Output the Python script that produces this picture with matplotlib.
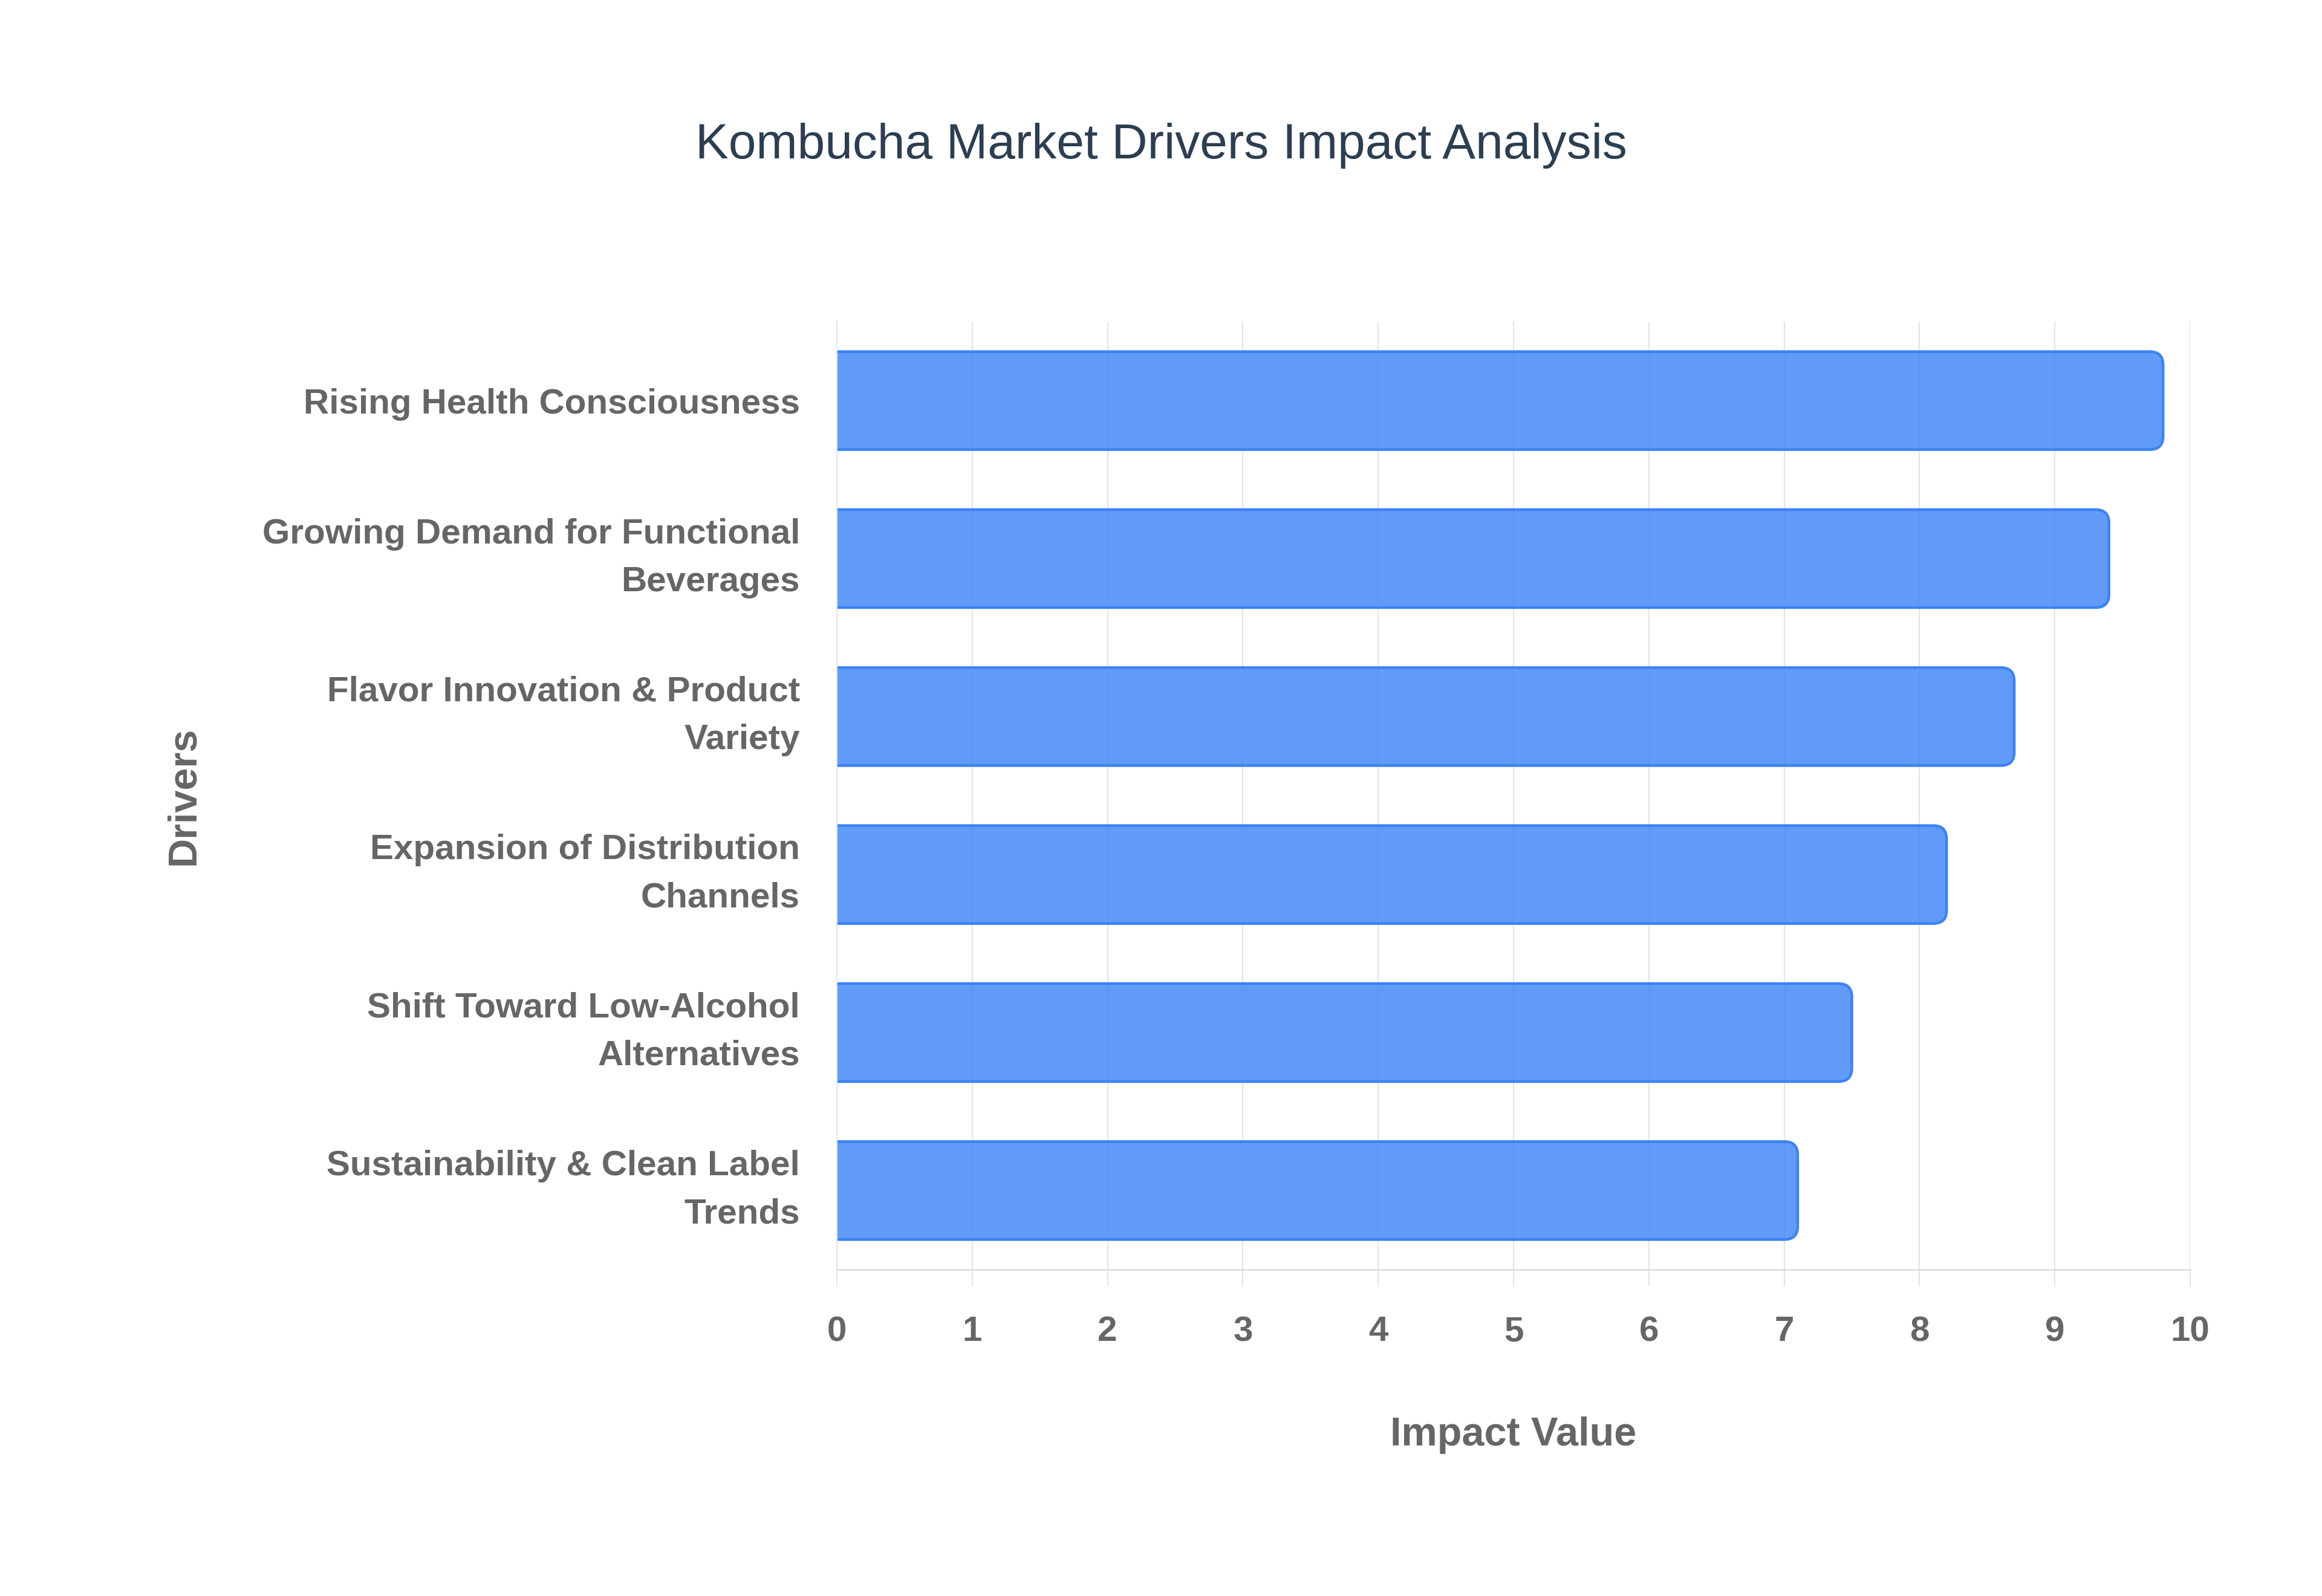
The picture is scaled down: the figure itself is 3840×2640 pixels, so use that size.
import matplotlib
matplotlib.use("Agg")
import matplotlib.pyplot as plt
import matplotlib.transforms as mtransforms
from matplotlib.patches import FancyBboxPatch
from matplotlib.colors import to_rgba

# ---- data ----
drivers = [
    "Rising Health Consciousness",
    "Growing Demand for Functional\nBeverages",
    "Flavor Innovation & Product\nVariety",
    "Expansion of Distribution\nChannels",
    "Shift Toward Low-Alcohol\nAlternatives",
    "Sustainability & Clean Label\nTrends",
]
impact = [9.8, 9.4, 8.7, 8.2, 7.5, 7.1]
x_ticks = [0, 1, 2, 3, 4, 5, 6, 7, 8, 9, 10]
title = "Kombucha Market Drivers Impact Analysis"
x_title = "Impact Value"
y_title = "Drivers"

plt.rcParams["font.family"] = ["Liberation Sans", "DejaVu Sans"]

W, H = 3840, 2640
fig = plt.figure(figsize=(W / 100, H / 100), dpi=100)
fig.patch.set_facecolor("white")

left_px, right_px, top_px, bottom_px = 1384, 3622, 532, 2100
ax = fig.add_axes([left_px / W, 1 - bottom_px / H,
                   (right_px - left_px) / W, (bottom_px - top_px) / H])

ypos = list(range(len(drivers)))
bar_color = "#3b82f6"
face = to_rgba(bar_color, 0.8)
bars = ax.barh(ypos, impact, height=0.62, color=face, edgecolor=bar_color,
               linewidth=3.2, zorder=2)
ax.set_xlim(x_ticks[0], x_ticks[-1])
ax.set_ylim(len(drivers) - 0.5, -0.5)

# rounded right-end corners (left end is clipped at the axis)
px_per_x = (right_px - left_px) / (x_ticks[-1] - x_ticks[0])
px_per_y = (bottom_px - top_px) / len(drivers)
r_px = 22
rx = r_px / px_per_x
ry = r_px / px_per_y
for rect in bars:
    x0, y0 = rect.get_x(), rect.get_y()
    w, h = rect.get_width(), rect.get_height()
    rect.set_visible(False)
    p = FancyBboxPatch((x0 - 2 * rx, y0), w + 2 * rx, h,
                       boxstyle=f"round,pad=0,rounding_size={rx}",
                       mutation_aspect=ry / rx,
                       facecolor=face, edgecolor=bar_color, linewidth=3.2,
                       zorder=2, clip_on=True)
    ax.add_patch(p)

# grid & spines
grid_c = "#e4e4e4"
ax.set_axisbelow(True)
ax.xaxis.grid(True, color=grid_c, linewidth=1.5)
ax.yaxis.grid(False)
for s in ["top", "right"]:
    ax.spines[s].set_visible(False)
ax.spines["left"].set_color(grid_c)
ax.spines["left"].set_linewidth(1.5)
ax.spines["bottom"].set_color("#dadada")
ax.spines["bottom"].set_linewidth(1.8)

ax.set_xticks(x_ticks)
ax.set_xticklabels([str(t) for t in x_ticks])
ax.set_yticks(ypos)
ax.set_yticklabels(drivers, linespacing=1.6, ha="right")

ax.tick_params(axis="x", length=20, width=1.5, color=grid_c, pad=35,
               labelsize=42, labelcolor="#666666")
ax.tick_params(axis="y", length=0, pad=44, labelsize=42, labelcolor="#666666")
for lab in ax.get_xticklabels() + ax.get_yticklabels():
    lab.set_fontweight("bold")

# shift two-line labels slightly upward
shift = mtransforms.ScaledTranslation(0, 14 / 72, fig.dpi_scale_trans)
for lab in ax.get_yticklabels():
    if "\n" in lab.get_text():
        lab.set_transform(lab.get_transform() + shift)

ax.set_xlabel(x_title, fontsize=48, fontweight="bold", color="#666666")
ax.set_ylabel(y_title, fontsize=48, fontweight="bold", color="#666666")
ax.xaxis.set_label_coords(0.5, (bottom_px - 2374) / (bottom_px - top_px))
ax.yaxis.set_label_coords((304 - left_px) / (right_px - left_px), 0.5)
ax.xaxis.label.set_va("center")
ax.yaxis.label.set_va("center")

fig.text(0.5, 1 - 262 / H, title, ha="center", va="baseline",
         fontsize=59, color="#2c3e50")

fig.savefig("out.png", dpi=100, facecolor="white")
